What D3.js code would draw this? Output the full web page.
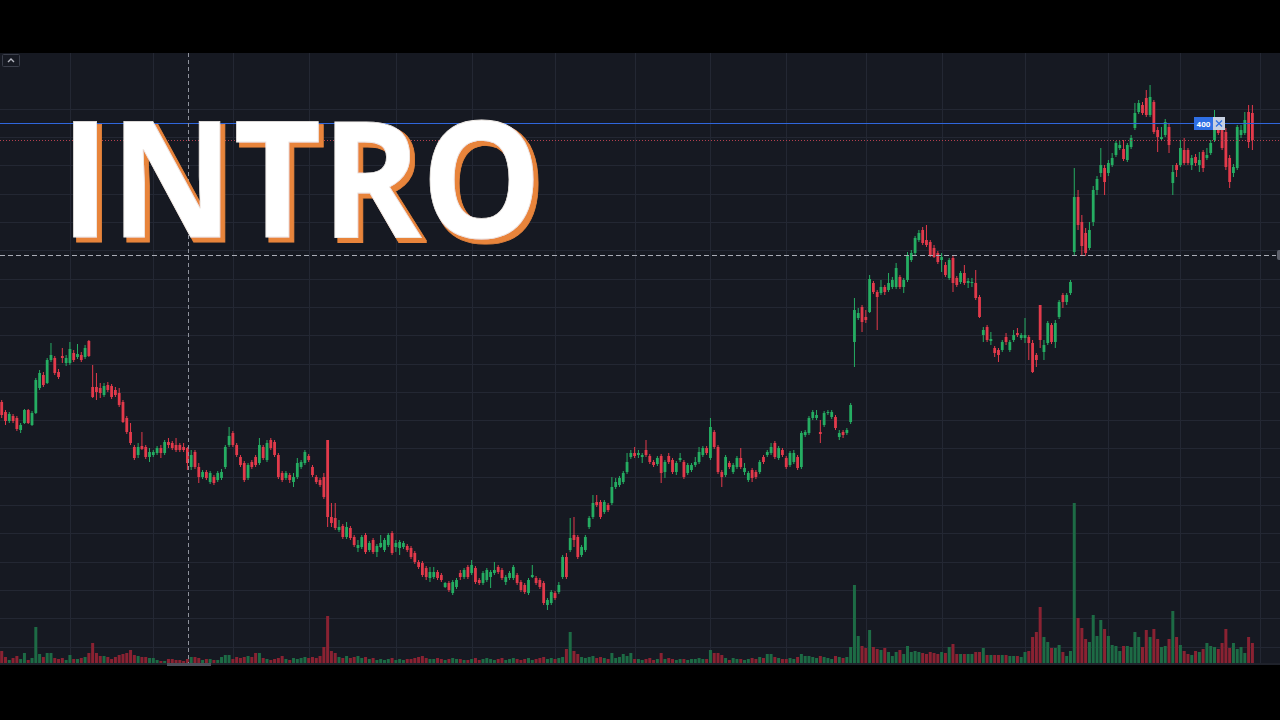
<!DOCTYPE html>
<html><head><meta charset="utf-8">
<script src="https://cdn.jsdelivr.net/npm/d3@7"></script>
<style>html,body{margin:0;padding:0;background:#000;overflow:hidden}</style>
</head><body>
<svg id="c" width="1280" height="720"></svg>
<script>
// ---- data (prices in cents, volume in thousands) ----
const open=[298,288,279,284,282,270,277,290,275,287,
312,325,317,340,342,328,344,337,337,347,
343,345,343,359,313,313,312,305,315,314,
310,307,298,282,268,253,245,254,253,243,
245,247,252,247,258,257,255,255,253,252,
233,248,233,223,228,218,223,220,222,233,
255,267,255,243,237,222,238,243,237,253,
240,260,258,245,227,222,225,218,223,233,
237,244,233,223,220,223,260,183,182,170,
174,163,172,163,152,153,165,150,160,148,
153,150,155,167,153,152,153,154,152,147,
138,137,132,122,123,128,125,113,117,107,
113,127,123,133,127,132,120,117,120,123,
127,133,130,118,122,122,125,118,115,107,
123,122,120,117,95,97,107,108,123,143,
150,165,163,145,150,173,183,198,198,188,
195,197,213,215,218,228,243,247,245,243,
250,244,238,236,244,228,244,240,228,240,
238,227,230,235,238,245,252,242,268,253,
228,225,237,228,233,242,228,220,230,228,
228,243,245,247,257,242,250,242,235,238,
243,233,265,267,282,282,268,275,287,283,
283,263,268,267,278,358,382,393,383,388,
417,408,407,413,410,413,413,423,413,420,
440,447,460,470,460,458,452,447,440,435,
422,442,422,418,427,417,417,417,403,365,
373,359,352,350,350,363,350,360,367,362,
362,363,357,345,395,348,357,375,358,383,
405,398,407,448,503,478,467,452,478,510,
527,532,527,535,545,552,551,540,553,572,
588,595,602,585,598,570,561,565,573,517,
535,535,550,550,535,543,535,548,542,547,
560,573,573,568,542,527,532,565,567,588,587];
const high=[300,290,288,286,284,277,291,291,289,322,
330,328,342,357,344,331,352,345,358,350,
356,348,355,360,335,327,317,317,318,316,
313,312,300,284,277,255,257,268,255,252,
250,254,255,260,262,259,262,257,257,253,
250,250,237,230,230,229,225,229,231,255,
273,269,257,245,239,237,240,245,262,255,
260,262,260,247,229,229,227,227,242,240,
250,246,235,225,222,227,260,197,197,180,
176,178,174,165,160,165,167,159,162,156,
165,162,167,169,160,160,159,156,154,149,
140,139,134,133,133,130,127,118,119,120,
122,130,132,135,140,134,122,129,132,130,
138,135,132,125,129,135,127,120,117,122,
135,124,122,119,102,110,109,118,145,147,
182,183,165,155,165,184,205,205,200,200,
197,223,222,224,229,247,250,253,250,247,
260,246,240,244,246,240,247,242,239,247,
240,237,237,243,253,254,254,282,270,255,
230,245,239,237,244,252,237,229,232,230,
240,245,250,257,259,254,252,244,249,250,
245,269,270,284,290,290,280,289,290,290,
285,270,270,272,297,402,392,395,390,425,
419,410,420,415,427,423,437,425,422,448,
450,464,470,473,475,460,455,449,447,438,
442,444,424,429,435,422,422,430,405,373,
375,368,354,352,360,367,360,370,372,367,
382,365,360,347,395,360,379,377,380,400,
407,407,420,532,510,485,472,478,514,524,
552,535,540,547,559,559,560,557,565,597,
600,598,610,615,600,573,573,581,576,535,
537,560,562,552,545,546,548,550,552,560,
590,580,576,572,545,536,575,575,588,595,595];
const low=[282,275,277,277,269,267,276,276,274,286,
310,313,316,338,325,321,337,334,335,338,
341,338,341,343,302,300,302,303,308,301,
303,293,277,266,255,240,242,250,241,238,
243,245,242,245,252,250,248,248,248,230,
230,231,217,221,220,216,215,218,220,231,
253,253,243,233,218,220,231,233,235,240,
238,250,243,221,218,220,217,213,221,231,
235,238,223,216,213,201,173,173,170,168,
161,161,160,153,148,151,146,148,146,143,
152,148,153,145,148,145,151,148,141,136,
131,123,120,118,121,120,118,112,108,105,
111,120,121,121,125,116,115,115,118,112,
125,126,120,115,120,120,115,108,106,105,
122,115,111,95,90,95,100,106,121,121,
148,153,141,143,148,171,181,193,181,186,
188,195,211,213,216,226,241,242,242,237,
243,236,233,234,217,222,236,226,225,238,
221,225,228,233,236,243,245,240,251,226,
213,223,231,226,231,231,225,218,218,221,
226,236,243,245,241,240,243,231,233,236,
230,231,263,265,280,280,257,273,285,281,
270,260,262,265,276,333,380,368,377,387,
406,370,405,405,408,411,411,411,407,418,
438,445,458,455,453,443,442,436,428,423,
420,408,413,416,415,412,413,400,382,358,
358,355,343,338,348,355,348,358,363,360,
357,340,327,333,352,340,355,356,352,381,
392,395,405,444,470,445,444,450,474,505,
523,505,524,533,543,550,539,538,551,570,
586,585,583,583,566,548,560,563,547,505,
523,533,535,535,530,534,528,528,540,545,
558,565,550,530,512,523,530,562,565,552,550];
const close=[285,279,286,279,271,275,290,277,287,320,
327,315,340,345,327,323,342,342,351,340,
346,340,352,344,303,308,307,314,310,303,
305,295,278,268,257,242,253,251,243,248,
248,252,247,258,255,252,250,250,250,237,
245,233,223,228,222,227,217,227,228,253,
264,255,245,235,220,235,233,235,255,242,
257,252,245,223,220,227,220,223,237,238,
248,240,225,218,215,203,183,177,172,173,
163,173,162,155,155,163,148,157,148,154,
157,160,165,147,157,158,157,150,143,138,
133,125,123,128,128,122,120,117,110,118,
120,123,130,123,135,118,117,127,130,128,
130,128,122,123,127,133,117,110,108,120,
125,117,113,97,100,108,102,115,143,123,
162,160,143,153,163,182,197,195,183,198,
190,213,218,222,227,238,247,244,247,245,
245,238,235,242,227,238,238,228,237,242,
223,235,235,238,248,252,247,273,253,228,
223,243,233,235,242,233,232,227,222,223,
238,238,248,253,243,252,245,233,247,247,
232,267,268,282,288,285,266,287,288,288,
272,267,265,270,295,390,387,378,380,421,
408,403,413,408,417,420,432,413,420,445,
447,462,467,457,455,445,443,438,443,425,
440,417,415,427,417,419,418,402,383,370,
360,361,347,345,358,358,358,365,365,365,
365,357,328,340,360,355,377,358,377,398,
398,405,418,503,475,454,447,470,510,521,
535,518,537,542,557,555,541,555,562,587,
597,587,585,603,568,563,563,578,555,528,
530,552,537,537,542,537,540,532,545,557,
573,567,552,533,518,533,573,570,580,558,560];
const volume=[120,60,30,50,70,40,100,30,50,360,
90,60,100,100,50,40,50,30,80,40,
40,50,60,100,200,100,70,70,60,40,
60,80,90,100,130,80,70,60,60,50,
50,30,20,20,40,40,30,30,20,40,
60,60,50,30,40,40,30,30,60,80,
80,40,60,50,60,70,60,100,100,50,
40,30,40,50,70,40,30,50,40,50,
60,50,60,50,70,160,470,120,100,60,
50,70,50,60,70,50,60,40,50,30,
40,30,40,50,30,40,30,40,40,50,
60,70,50,40,40,50,40,30,40,50,
40,40,30,30,40,50,30,40,50,40,
30,40,50,30,40,50,40,30,40,50,
30,40,50,60,40,50,40,50,60,140,
310,120,90,60,50,60,70,50,60,50,
40,100,50,60,90,70,100,40,40,30,
40,50,30,40,100,40,50,40,30,40,
40,30,40,40,50,40,40,130,100,100,
80,50,30,50,40,40,30,40,50,40,
60,50,90,90,60,50,40,40,50,40,
60,90,70,70,60,50,70,60,50,40,
70,60,50,60,160,780,270,170,150,330,
160,140,130,150,110,70,110,130,90,170,
110,120,110,100,90,110,100,90,110,100,
160,190,90,90,90,90,90,110,110,150,
80,80,80,80,80,80,70,70,70,60,
110,120,260,310,560,260,210,150,150,180,
110,70,120,1600,450,350,240,210,480,270,
430,340,270,180,170,120,170,170,160,310,
260,160,330,260,340,240,160,170,240,520,
260,180,120,90,80,120,110,140,200,170,
160,140,200,340,150,200,140,160,100,260,200];
const timeTicks=[18,40,61,81,104,124,146,167,187,207,228,248,270,292,311,332];
const gridPrices=[591,563,535,506,478,450,421,393,365,336,308,280,252,223,195,167,138,110,82,53];
const orderPrice=577, stopPrice=560, crossPrice=445, crossIndex=49.2;
const orderQty="400";
const titleText="INTRO";

(function(){
const W=1280,H=720, paneTop=53, paneBottom=665;
const svg=d3.select("#c");
const N=Math.min(open.length,high.length,low.length,close.length,volume.length);
const x=d3.scaleLinear().domain([0,330]).range([1.7,1252.4]);
const y=d3.scaleLinear().domain([35,647]).range([665,53]);
const yv=d3.scaleLinear().domain([0,1600]).range([663,503]);

const defs=svg.append("defs");
const clip=defs.append("clipPath").attr("id","pane");
clip.append("rect").attr("x",0).attr("y",paneTop).attr("width",W).attr("height",663-paneTop);
const f=defs.append("filter").attr("id","shadow").attr("x","-5%").attr("y","-10%").attr("width","115%").attr("height","125%");
f.append("feMorphology").attr("in","SourceAlpha").attr("operator","dilate").attr("radius",1).attr("result","dil");
f.append("feOffset").attr("in","dil").attr("dx",4).attr("dy",4).attr("result","off");
f.append("feFlood").attr("flood-color","#e8843b").attr("result","col");
f.append("feComposite").attr("in","col").attr("in2","off").attr("operator","in").attr("result","sh");
const m=f.append("feMerge");
m.append("feMergeNode").attr("in","sh");
m.append("feMergeNode").attr("in","SourceGraphic");

svg.append("rect").attr("width",W).attr("height",H).attr("fill","#000");
svg.append("rect").attr("x",0).attr("y",paneTop).attr("width",W).attr("height",paneBottom-paneTop).attr("fill","#161922");

const g=svg.append("g").attr("clip-path","url(#pane)");

g.append("g").selectAll("line").data(gridPrices).join("line")
 .attr("x1",0).attr("x2",W).attr("y1",d=>Math.round(y(d))+0.5).attr("y2",d=>Math.round(y(d))+0.5)
 .attr("stroke","#232733").attr("stroke-width",1);
g.append("g").selectAll("line").data(timeTicks).join("line")
 .attr("y1",paneTop).attr("y2",663).attr("x1",d=>Math.round(x(d))+0.5).attr("x2",d=>Math.round(x(d))+0.5)
 .attr("stroke","#232733").attr("stroke-width",1);

const idx=d3.range(N);
const up=i=>close[i]>=open[i];
const GREEN="#25ad62", RED="#e23a4b", VG="#1d6b45", VR="#8a2232";

g.append("g").selectAll("rect").data(idx).join("rect")
 .attr("x",i=>x(i)-1.5).attr("width",3)
 .attr("y",i=>yv(volume[i])).attr("height",i=>yv(0)-yv(volume[i]))
 .attr("fill",i=>up(i)?VG:VR);

g.append("g").selectAll("line").data(idx).join("line")
 .attr("x1",i=>x(i)).attr("x2",i=>x(i))
 .attr("y1",i=>y(high[i])).attr("y2",i=>y(low[i]))
 .attr("stroke",i=>up(i)?GREEN:RED).attr("stroke-width",1);
g.append("g").selectAll("rect").data(idx).join("rect")
 .attr("x",i=>x(i)-1.4).attr("width",2.8)
 .attr("y",i=>y(Math.max(open[i],close[i])))
 .attr("height",i=>Math.max(1,Math.abs(y(open[i])-y(close[i]))))
 .attr("fill",i=>up(i)?GREEN:RED);

svg.append("line").attr("x1",0).attr("x2",W).attr("y1",y(orderPrice)+0.5).attr("y2",y(orderPrice)+0.5)
 .attr("stroke","#2f66dc").attr("stroke-width",1);
svg.append("line").attr("x1",0).attr("x2",W).attr("y1",y(stopPrice)+0.5).attr("y2",y(stopPrice)+0.5)
 .attr("stroke","#b5404f").attr("stroke-width",1).attr("stroke-dasharray","1,2");

svg.append("line").attr("x1",0).attr("x2",1276).attr("y1",y(crossPrice)+0.5).attr("y2",y(crossPrice)+0.5)
 .attr("stroke","#a9acb6").attr("stroke-width",1).attr("stroke-dasharray","5,3");
svg.append("line").attr("x1",Math.round(x(crossIndex))+0.5).attr("x2",Math.round(x(crossIndex))+0.5).attr("y1",paneTop).attr("y2",663)
 .attr("stroke","#8e919b").attr("stroke-width",1).attr("stroke-dasharray","4,3");
svg.append("rect").attr("x",1277).attr("y",y(crossPrice)-5).attr("width",5).attr("height",10).attr("rx",2).attr("fill","#5d606b");

const ox=1194, oy=y(orderPrice)-6;
svg.append("rect").attr("x",ox).attr("y",oy).attr("width",19).attr("height",13).attr("fill","#2f6fe4");
svg.append("text").attr("x",ox+9.5).attr("y",oy+9.5).attr("text-anchor","middle")
 .attr("font-family","Roboto, Arial, sans-serif").attr("font-weight",700).attr("font-size",8).attr("fill","#fff").text(orderQty);
svg.append("rect").attr("x",ox+19).attr("y",oy).attr("width",12).attr("height",13).attr("fill","#c7d0e2");
svg.append("path").attr("d",`M${ox+22},${oy+3.5}L${ox+28},${oy+9.5}M${ox+28},${oy+3.5}L${ox+22},${oy+9.5}`)
 .attr("stroke","#2f6fe4").attr("stroke-width",1.2);

svg.append("rect").attr("x",0).attr("y",663).attr("width",W).attr("height",2).attr("fill","#1f222b");
svg.append("rect").attr("x",167).attr("y",663).attr("width",44).attr("height",3).attr("fill","#4b4f5a");

svg.append("rect").attr("x",2.5).attr("y",54.5).attr("width",17).attr("height",12).attr("rx",1)
 .attr("fill","none").attr("stroke","#3a3e4a");
svg.append("path").attr("d","M8,62 L11,59 L14,62").attr("fill","none").attr("stroke","#b4b7c0").attr("stroke-width",1.4);

svg.append("text").attr("x",60).attr("y",237).attr("font-family","'Open Sans', 'Noto Sans', sans-serif").attr("font-weight",700)
 .attr("font-size",162).attr("textLength",482).attr("lengthAdjust","spacingAndGlyphs")
 .attr("fill","#ffffff").attr("stroke","#eeeae6").attr("stroke-width",0.8)
 .attr("filter","url(#shadow)").text(titleText);
})();
</script>
</body></html>
